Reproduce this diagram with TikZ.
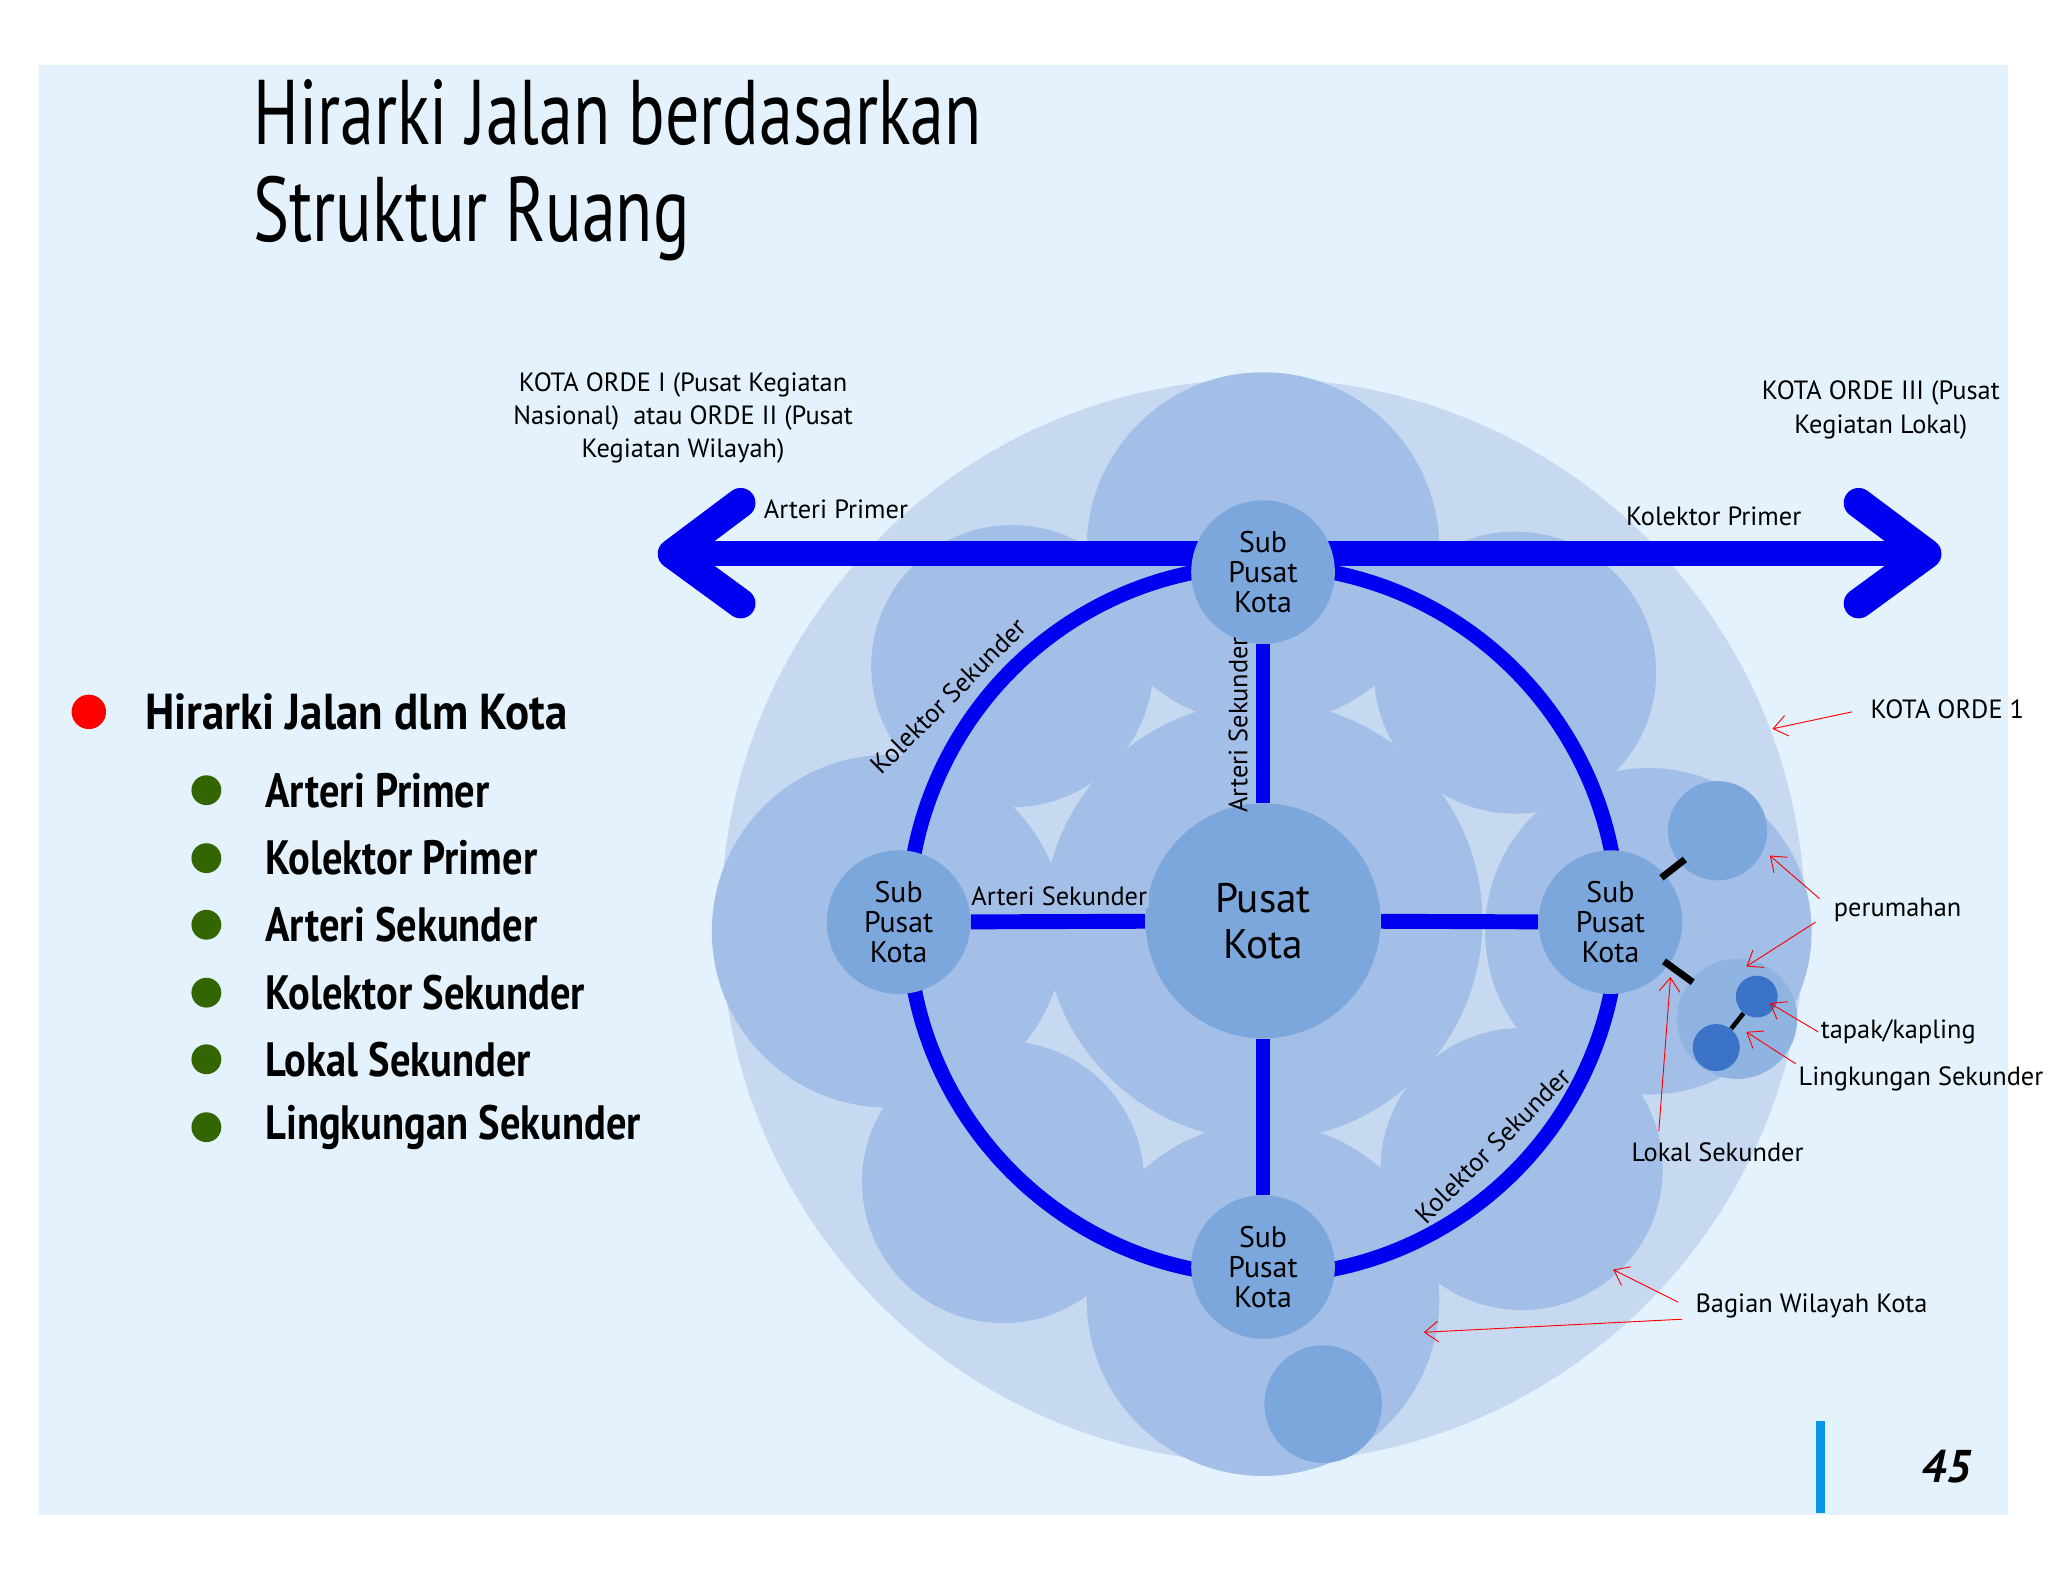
\documentclass[tikz,border=0pt]{standalone}
\usepackage{fontspec}
\setmainfont{PT Sans}
\usetikzlibrary{arrows.meta}
\definecolor{bg}{HTML}{E3F2FC}
\definecolor{big}{HTML}{C6D9F1}
\definecolor{pet}{HTML}{A3BFE8}
\definecolor{nd}{HTML}{7BA7DD}
\definecolor{dk}{HTML}{3A73C8}
\definecolor{road}{HTML}{0000F0}
\definecolor{grn}{HTML}{336600}
\definecolor{bar}{HTML}{0A96E6}
\tikzset{
 petal/.style={fill=pet},
 hub/.style={circle,fill=nd,align=center,font=\fontsize{13}{13}\selectfont,inner sep=0pt},
 lbl/.style={font=\fontsize{11.5}{14.5}\selectfont,inner sep=1pt},
 ra/.style={red,-{Straight Barb[length=6pt,width=9pt]},thin},
 leg/.style={anchor=west,font=\bfseries\fontsize{22}{22}\selectfont},
 gdot/.style={circle,fill=grn,minimum size=13pt,inner sep=0pt},
 roadl/.style={road,line width=6.5pt}
}
\begin{document}
\begin{tikzpicture}[x=0.02cm,y=-0.02cm]
\useasboundingbox (0,0) rectangle (1568,1211);
\fill[white] (0,0) rectangle (1568,1211);
\fill[bg] (30,50) rectangle (1537,1160);
% title
\node[anchor=north west,align=left,font=\fontsize{40}{42}\selectfont] (title) at (188,55) {\scalebox{0.74}[1]{Hirarki Jalan berdasarkan}\\\scalebox{0.74}[1]{Struktur Ruang}};
% big circle and petals
\fill[big] (967,705) circle (415);
\foreach \p/\r in {{967,420}/135,{680,713}/135,{967,995}/135,{1262,713}/125,{775,510}/108,{1160,515}/108,{768,905}/108,{1165,895}/108,{967,705}/168}
  \fill[petal] (\p) circle (\r);
\fill[nd] (1315,636) circle (38);
\fill[nd!85!white] (1330,780) circle (46);
\fill[nd] (1013,1075) circle (45);
\node[circle,fill=dk,inner sep=0pt,minimum width=0.64cm] (t1) at (1345,763) {};
\node[circle,fill=dk,inner sep=0pt,minimum width=0.72cm] (t2) at (1314,802) {};
\draw[line width=2pt] (t1) -- (t2);
% ring and roads
\draw[roadl] (967,705) circle (272);
\node[hub,minimum size=3.6cm,font=\fontsize{18}{20}\selectfont] (pk) at (967,705) {Pusat\\Kota};
\node[hub,minimum size=2.2cm] (sl) at (688,706) {Sub\\Pusat\\Kota};
\node[hub,minimum size=2.2cm] (sr) at (1233,706) {Sub\\Pusat\\Kota};
\node[hub,minimum size=2.2cm] (sb) at (967,970) {Sub\\Pusat\\Kota};
\coordinate (al) at (515,424); \coordinate (ar) at (1475,424);
\draw[road,line width=11pt] (al) -- (ar);
\draw[road,line width=13pt,line cap=round,line join=round] (567,385) -- (al) -- (567,462);
\draw[road,line width=13pt,line cap=round,line join=round] (1423,385) -- (ar) -- (1423,462);
\node[hub,minimum size=2.2cm] (st) at (967,438) {Sub\\Pusat\\Kota};
\draw[roadl] (st) -- (pk); \draw[roadl] (pk) -- (sb);
\draw[roadl] (sl) -- (pk); \draw[roadl] (pk) -- (sr);
% black links
\coordinate (b1) at (1290,658); \coordinate (b2) at (1296,752);
\draw[line width=3pt] (1272,672) -- (b1);
\draw[line width=3pt] (1274,736) -- (b2);
% road labels
\node[lbl] (lap) at (640,390) {Arteri Primer};
\node[lbl] (lkp) at (1312,395) {Kolektor Primer};
\node[lbl,fill=pet] (las) at (811,686) {Arteri Sekunder};
\node[lbl,rotate=90] (lasv) at (948,555) {Arteri Sekunder};
\node[lbl,rotate=45] (lks1) at (726,533) {Kolektor Sekunder};
\node[lbl,rotate=45] (lks2) at (1143,877) {Kolektor Sekunder};
\node[lbl,align=center] (ko1) at (523,320) {KOTA ORDE I (Pusat Kegiatan\\Nasional)\ \ atau ORDE II (Pusat\\Kegiatan Wilayah)};
\node[lbl,align=center] (ko3) at (1440,314) {KOTA ORDE III (Pusat\\Kegiatan Lokal)};
% right annotations
\node[lbl,anchor=west] (kota1) at (1430,543) {KOTA ORDE 1};
\draw[ra] (1418,545) -- (1357,558);
\node[lbl,anchor=west] (per) at (1402,697) {perumahan};
\draw[ra] (1393,688) -- (1355,655);
\draw[ra] (1390,706) -- (1337,740);
\node[lbl,anchor=west] (tap) at (1392,790) {tapak/kapling};
\draw[ra] (tap.west) -- (1355,768);
\node[lbl,anchor=west] (ling) at (1375,826) {Lingkungan Sekunder};
\draw[ra] (ling.north west) -- (1337,790);
\node[lbl] (lok) at (1315,882) {Lokal Sekunder};
\draw[ra] (1270,866) -- (1279,748);
\node[lbl,anchor=west] (bag) at (1296,1000) {Bagian Wilayah Kota};
\draw[ra] (1285,997) -- (1235,972);
\draw[ra] (1288,1010) -- (1090,1020);
% legend
\node[circle,fill=red,minimum size=15pt,inner sep=0pt] (rd) at (68,545) {};
\node[leg] (h) at (105,545) {\scalebox{0.89}[1]{Hirarki Jalan dlm Kota}};
\foreach \y/\t in {605/Arteri Primer,657/Kolektor Primer,708/Arteri Sekunder,760/Kolektor Sekunder,811/Lokal Sekunder,863/Lingkungan Sekunder}{
  \node[gdot] at (158,\y) {};
  \node[leg,font=\bfseries\fontsize{21}{21}\selectfont] at (197,\y) {\scalebox{0.84}[1]{\t}};
}
% page number
\fill[bar] (1390,1088) rectangle (1397,1158);
\node[font=\bfseries\itshape\fontsize{20}{20}\selectfont] (pg) at (1490,1123) {45};
\end{tikzpicture}
\end{document}
